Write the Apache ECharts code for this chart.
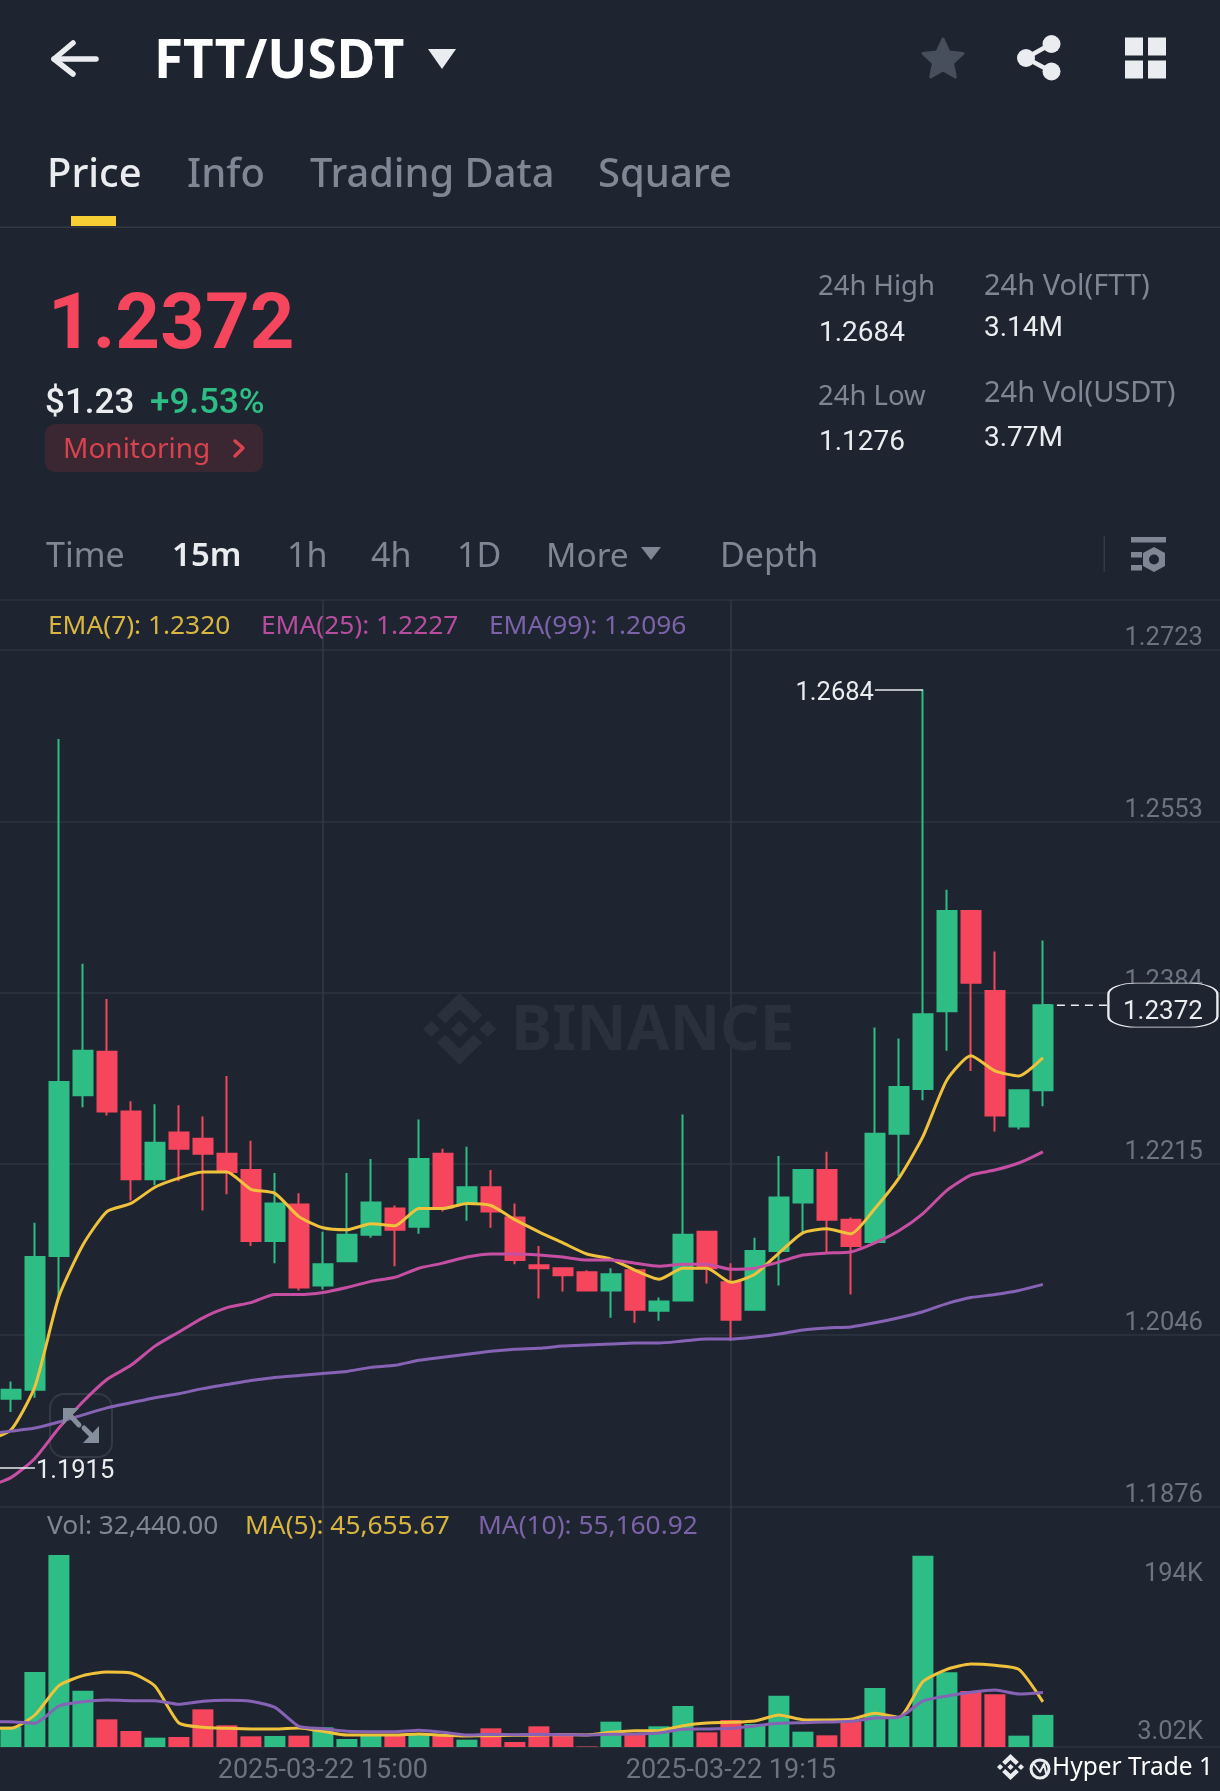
<!DOCTYPE html>
<html>
<head>
<meta charset="utf-8">
<title>FTT/USDT</title>
<script src="https://cdn.jsdelivr.net/npm/echarts@6/dist/echarts.min.js"></script>
<style>
html,body{margin:0;padding:0;background:#1e2530;}
#main{width:1220px;height:1791px;}
</style>
</head>
<body>
<div id="main"></div>
<script>
// 15m candles, the first one sits just off the left edge of the screen
var times = ['11:30','11:45','12:00','12:15','12:30','12:45','13:00','13:15','13:30','13:45','14:00','14:15','14:30','14:45',
    '15:00','15:15','15:30','15:45','16:00','16:15','16:30','16:45','17:00','17:15','17:30','17:45','18:00','18:15','18:30','18:45',
    '19:00','19:15','19:30','19:45','20:00','20:15','20:30','20:45','21:00','21:15','21:30','21:45','22:00','22:15','22:30'];
var opens = [1.1950,1.1983,1.1992,1.2124,1.2283,1.2326,1.2267,1.2200,1.2246,1.2240,1.2225,1.2209,1.2139,1.2175,1.2095,1.2119,1.2145,1.2171,1.2153,1.2225,1.2176,1.2192,1.2162,1.2115,1.2112,1.2108,1.2090,1.2110,1.2070,1.2080,1.2148,1.2098,1.2071,1.2129,1.2177,1.2209,1.2160,1.2138,1.2245,1.2289,1.2366,1.2465,1.2386,1.2252,1.2288];
var closes = [1.1983,1.1992,1.2123,1.2296,1.2327,1.2267,1.2200,1.2236,1.2230,1.2225,1.2207,1.2139,1.2176,1.2093,1.2116,1.2145,1.2177,1.2150,1.2220,1.2172,1.2192,1.2168,1.2120,1.2112,1.2105,1.2090,1.2106,1.2071,1.2079,1.2145,1.2112,1.2061,1.2129,1.2182,1.2209,1.2160,1.2134,1.2245,1.2291,1.2363,1.2465,1.2394,1.2263,1.2288,1.2372];
var lows = [1.1915,1.1970,1.1984,1.2084,1.2271,1.2263,1.2179,1.2194,1.2198,1.2169,1.2185,1.2134,1.2117,1.2090,1.2091,1.2118,1.2142,1.2114,1.2146,1.2168,1.2159,1.2152,1.2116,1.2082,1.2089,1.2090,1.2063,1.2058,1.2060,1.2080,1.2097,1.2040,1.2071,1.2095,1.2147,1.2128,1.2086,1.2138,1.2203,1.2278,1.2327,1.2307,1.2247,1.2249,1.2272];
var highs = [1.1990,1.2000,1.2157,1.2635,1.2413,1.2378,1.2277,1.2274,1.2273,1.2262,1.2302,1.2238,1.2206,1.2186,1.2148,1.2206,1.2220,1.2174,1.2259,1.2230,1.2232,1.2209,1.2176,1.2134,1.2112,1.2110,1.2112,1.2110,1.2083,1.2264,1.2148,1.2117,1.2142,1.2223,1.2209,1.2227,1.2162,1.2350,1.2339,1.2684,1.2486,1.2465,1.2425,1.2288,1.2436];
var ema7 = [1.1942,1.1952,1.1995,1.2084,1.2135,1.2168,1.2176,1.2192,1.2201,1.2207,1.2207,1.2190,1.2186,1.2163,1.2152,1.2150,1.2156,1.2154,1.2171,1.2171,1.2176,1.2174,1.2160,1.2148,1.2137,1.2126,1.2121,1.2110,1.2101,1.2112,1.2112,1.2098,1.2106,1.2127,1.2147,1.2151,1.2146,1.2171,1.2201,1.2242,1.2298,1.2322,1.2307,1.2302,1.2320];
var ema25 = [1.1896,1.1905,1.1924,1.1954,1.1980,1.2002,1.2016,1.2035,1.2049,1.2063,1.2073,1.2078,1.2086,1.2086,1.2088,1.2093,1.2099,1.2103,1.2112,1.2117,1.2123,1.2126,1.2126,1.2125,1.2123,1.2120,1.2120,1.2117,1.2114,1.2116,1.2116,1.2111,1.2112,1.2118,1.2125,1.2127,1.2128,1.2137,1.2149,1.2166,1.2189,1.2204,1.2209,1.2216,1.2227];
var ema99 = [1.1948,1.1951,1.1954,1.1960,1.1967,1.1974,1.1979,1.1984,1.1988,1.1993,1.1997,1.2001,1.2004,1.2006,1.2008,1.2010,1.2014,1.2016,1.2021,1.2024,1.2027,1.2030,1.2032,1.2033,1.2035,1.2036,1.2037,1.2038,1.2038,1.2040,1.2042,1.2042,1.2044,1.2047,1.2051,1.2053,1.2054,1.2058,1.2063,1.2069,1.2077,1.2083,1.2086,1.2090,1.2096];
var volumes = [20000,20540,75780,194000,56900,27950,16170,9430,10100,38060,21890,10780,11110,11450,19870,8080,12460,11110,12800,11110,7410,18860,5050,20880,13810,500,25600,13810,20880,41430,14820,27280,23240,51860,15490,11790,25600,59610,31320,193300,75440,56580,53220,11450,32440];
var ma5 = [18860,18860,32330,61970,72080,75780,74770,61630,24250,19870,18860,18190,18190,19200,15830,12120,12120,12120,13140,11790,11110,11450,11790,12120,12460,12120,14820,16500,16500,21560,24250,24920,26270,32330,27620,27280,27950,34020,29980,66010,78470,83860,82520,78470,45656];
var ma10 = [25260,25600,23910,41430,45800,47490,46820,46820,43110,46140,47150,46140,40080,20880,18520,15830,15490,15490,16840,14820,12120,12800,12460,12800,12460,12120,12800,13140,14150,17850,18190,18860,21220,23910,24590,25260,25930,29300,29980,46480,51530,55230,57590,53550,55161];
var priceTicks = [1.1876,1.2046,1.2215,1.2384,1.2553,1.2723];
var lastPrice = 1.2372;
var highPrice = 1.2684;
var lowPrice = 1.1915;
var timeTicks = ['15:00','19:15'];

var green = '#2ebd85', red = '#f6465d', bg = '#1e2530', line = '#2d3440';
var grey = '#7f8794', axisGrey = '#6c7480', white = '#eaecef';
var yellow = '#f0c23c', pink = '#c64fa3', purple = '#8763b5';
var ui = '"Noto Sans"', num = 'Roboto';

// 7 empty slots leave room on the right for the price labels
var categories = times.concat(['', '', '', '', '', '', '']);
var lastIdx = times.length - 1;
var highIdx = highs.indexOf(highPrice);
var candles = opens.map(function (o, i) { return [o, closes[i], lows[i], highs[i]]; });
var volBars = volumes.map(function (v, i) {
    return {value: v, itemStyle: {color: closes[i] >= opens[i] ? green : red}};
});
var lastLine = categories.map(function (c, i) { return i >= lastIdx && i <= lastIdx + 3 ? lastPrice : null; });
function isTimeTick(index) { return timeTicks.indexOf(categories[index]) >= 0; }

function txt(x, y, s, size, color, weight, font, align) {
    return {type: 'text', z: 20, silent: true, style: {
        x: x, y: y, text: s, fontSize: size, fill: color, fontWeight: weight || 400,
        fontFamily: font || ui, align: align || 'left', verticalAlign: 'middle'
    }};
}
function poly(points, color, z) {
    return {type: 'polygon', z: z || 20, silent: true, shape: {points: points}, style: {fill: color}};
}
function stroke(points, color, w) {
    return {type: 'polyline', z: 20, silent: true, shape: {points: points},
        style: {stroke: color, lineWidth: w, fill: null, lineCap: 'round', lineJoin: 'round'}};
}
function rect(x, y, w, h, color, r) {
    return {type: 'rect', z: 20, silent: true, shape: {x: x, y: y, width: w, height: h, r: r || 0}, style: {fill: color}};
}
function circle(x, y, r, color) {
    return {type: 'circle', z: 20, silent: true, shape: {cx: x, cy: y, r: r}, style: {fill: color}};
}
function star(cx, cy, R, r) {
    var pts = [];
    for (var k = 0; k < 10; k++) {
        var a = -Math.PI / 2 + k * Math.PI / 5, d = k % 2 ? r : R;
        pts.push([cx + d * Math.cos(a), cy + d * Math.sin(a)]);
    }
    return pts;
}
// binance mark, in a 125.5 unit box
var logoParts = [
    [[38.17,53.2],[62.76,28.62],[87.36,53.22],[101.67,38.91],[62.76,0],[23.86,38.9]],
    [[0,62.76],[14.31,48.45],[28.61,62.76],[14.31,77.07]],
    [[38.17,72.31],[62.76,96.9],[87.36,72.3],[101.68,86.59],[62.76,125.52],[23.86,86.62]],
    [[96.9,62.76],[111.21,48.45],[125.52,62.76],[111.21,77.07]],
    [[77.27,62.75],[62.76,48.24],[48.25,62.75],[62.76,77.27]]
];
function logo(x, y, w, h, color, z) {
    return logoParts.map(function (part) {
        return poly(part.map(function (p) { return [x + p[0] * w / 125.5, y + p[1] * h / 125.5]; }), color, z);
    });
}

var elements = [
    // header
    stroke([[96, 59], [54, 59]], white, 5.5),
    stroke([[73, 43], [54, 59], [73, 74]], white, 5.5),
    txt(154, 63, 'FTT/USDT', 53, '#ffffff', 700),
    poly([[428, 49], [456, 49], [442, 69]], white),
    {type: 'polygon', z: 20, silent: true, shape: {points: star(943, 60, 21, 10)}, style: {fill: '#474f5c', stroke: '#474f5c', lineWidth: 3, lineJoin: 'round'}},
    stroke([[1051, 44], [1026, 58], [1052, 72]], white, 4.5),
    circle(1026, 58, 9, white), circle(1051.5, 44, 9, white), circle(1051.5, 71.5, 9, white),
    rect(1125, 37.5, 18, 18, white), rect(1148, 37.5, 18, 18, white),
    rect(1125, 60.5, 18, 18, white), rect(1148, 60.5, 18, 18, white),
    // tabs
    txt(47, 176, 'Price', 40, white, 500),
    txt(187, 176, 'Info', 40, grey, 500),
    txt(310, 176, 'Trading Data', 39.8, grey, 500),
    txt(598, 176, 'Square', 40, grey, 500),
    rect(71, 216, 45, 10, '#f5cf33'),
    rect(0, 226.5, 1220, 1.5, '#333a46'),
    // price block
    txt(48, 328, '1.2372', 78, red, 700, num),
    txt(45, 404, '$1.23', 35, white, 500, num),
    txt(150, 404, '+9.53%', 35, green, 500, num),
    rect(45, 424, 218, 48, '#3a2731', 10),
    txt(63, 450, 'Monitoring', 28, '#d8434f', 400),
    stroke([[235, 441], [243, 448], [235, 456]], '#d8434f', 3.5),
    // 24h stats
    txt(818, 287, '24h High', 27.5, grey),
    txt(819, 334, '1.2684', 28, white, 400, num),
    txt(818, 397, '24h Low', 27.5, grey),
    txt(819, 443, '1.1276', 28, white, 400, num),
    txt(984, 287, '24h Vol(FTT)', 29, grey),
    txt(984, 329, '3.14M', 28, white, 400, num),
    txt(984, 394, '24h Vol(USDT)', 29, grey),
    txt(984, 439, '3.77M', 28, white, 400, num),
    // interval row
    txt(46, 557, 'Time', 34, grey),
    txt(172, 557, '15m', 33, white, 600),
    txt(287, 557, '1h', 34, grey),
    txt(371, 557, '4h', 34, grey),
    txt(457, 557, '1D', 34, grey),
    txt(546, 557, 'More', 33.5, grey),
    poly([[641, 547], [661, 547], [651, 560]], grey),
    txt(720, 557, 'Depth', 34, grey),
    rect(1103.5, 536, 1.5, 36, '#333a46'),
    rect(1131, 537, 35, 5.5, grey),
    rect(1131, 552, 11, 5.5, grey), rect(1131, 565, 11, 5.5, grey),
    poly([[1154, 547], [1165, 553], [1165, 566], [1154, 572], [1143, 566], [1143, 553]], grey),
    circle(1154, 559.5, 5, bg),
    // indicator legends
    txt(48, 627, 'EMA(7): 1.2320', 26.3, '#d9b63f'),
    txt(261, 627, 'EMA(25): 1.2227', 26.3, '#b84da0'),
    txt(489, 627, 'EMA(99): 1.2096', 26.3, '#7c62a8'),
    txt(47, 1527, 'Vol: 32,440.00', 26.3, grey),
    txt(245, 1527, 'MA(5): 45,655.67', 26.3, '#d9b63f'),
    txt(478, 1527, 'MA(10): 55,160.92', 26.3, '#7c62a8'),
    // watermark and the expand button sit under the candles
    {type: 'text', z: 1, silent: true, style: {x: 511, y: 1032, text: 'BINANCE', fontSize: 62, fontWeight: 700, fontFamily: ui, fill: '#2a313c', align: 'left', verticalAlign: 'middle'}},
    {type: 'rect', z: 1, silent: true, shape: {x: 50, y: 1394, width: 62, height: 63, r: 14}, style: {fill: null, stroke: '#333a46', lineWidth: 2}},
    poly([[63, 1408], [79, 1408], [63, 1425]], '#848e9c'),
    stroke([[68, 1413], [79, 1425]], '#848e9c', 5),
    poly([[99, 1443], [83, 1443], [99, 1426]], '#848e9c'),
    stroke([[94, 1438], [84, 1428]], '#848e9c', 5),
    // bottom right stamp
    {type: 'circle', z: 20, silent: true, shape: {cx: 1040, cy: 1769, r: 9}, style: {fill: bg, stroke: white, lineWidth: 3}},
    stroke([[1034, 1764], [1040, 1772], [1044, 1764], [1046, 1773]], white, 2),
    txt(1052, 1768, 'Hyper Trade 1', 24.5, '#ffffff')
].concat(logo(423, 993, 73, 72, '#2a313c', 1), logo(997, 1754, 27, 26, white, 20));

var chart = echarts.init(document.getElementById('main'));
chart.setOption({
    animation: false,
    backgroundColor: bg,
    graphic: {elements: elements},
    grid: [
        {left: -25.1, width: 1248, top: 600, height: 907, outerBoundsMode: 'none'},
        {left: -25.1, width: 1248, top: 1507, height: 240, outerBoundsMode: 'none'}
    ],
    xAxis: [
        {
            type: 'category', gridIndex: 0, data: categories, position: 'top', boundaryGap: true,
            axisLine: {show: true, lineStyle: {color: line, width: 1.5}}, axisTick: {show: false}, axisLabel: {show: false},
            splitLine: {show: true, interval: isTimeTick, alignWithLabel: true, lineStyle: {color: '#333a46', width: 1.5}}
        },
        {
            type: 'category', gridIndex: 1, data: categories, position: 'bottom', boundaryGap: true,
            axisLine: {show: true, lineStyle: {color: line, width: 1.5}}, axisTick: {show: false},
            axisLabel: {
                interval: isTimeTick, margin: 11, color: axisGrey, fontSize: 27, fontFamily: num,
                formatter: function (v) { return '2025-03-22 ' + v; }
            },
            splitLine: {show: true, interval: isTimeTick, alignWithLabel: true, lineStyle: {color: '#333a46', width: 1.5}}
        }
    ],
    yAxis: [
        {
            type: 'value', gridIndex: 0, position: 'right', min: 1.1876, max: 1.27724,
            axisLine: {show: false},
            axisTick: {show: false, customValues: priceTicks},
            axisLabel: {
                inside: true, margin: 20, customValues: priceTicks, color: axisGrey, fontSize: 25.5, fontFamily: num,
                verticalAlign: 'bottom', lineHeight: 22,
                formatter: function (v) { return v.toFixed(4); }
            },
            splitLine: {show: true, lineStyle: {color: line, width: 1.5}}
        },
        {
            type: 'value', gridIndex: 1, position: 'right', min: 0, max: 242500,
            axisLine: {show: false}, axisTick: {show: false}, splitLine: {show: false},
            axisLabel: {
                inside: true, margin: 20, customValues: [194000], color: axisGrey, fontSize: 25.5, fontFamily: num,
                verticalAlign: 'top', padding: [7, 0, 0, 0], formatter: '194K'
            }
        },
        {
            type: 'value', gridIndex: 1, position: 'right', min: 0, max: 242500,
            axisLine: {show: false}, axisTick: {show: false}, splitLine: {show: false},
            axisLabel: {
                inside: true, margin: 20, customValues: [3020], color: axisGrey, fontSize: 25.5, fontFamily: num,
                verticalAlign: 'bottom', lineHeight: 22, formatter: '3.02K'
            }
        }
    ],
    series: [
        {
            name: 'last', type: 'line', z: 1, xAxisIndex: 0, yAxisIndex: 0, data: lastLine, symbol: 'none',
            connectNulls: false,
            lineStyle: {color: white, width: 1.5, type: [8, 6]},
            markPoint: {
                symbol: 'roundRect', symbolSize: [109, 44],
                itemStyle: {color: bg, borderColor: white, borderWidth: 1.5},
                data: [{coord: [lastIdx + 5, lastPrice], value: lastPrice}],
                label: {
                    show: true, position: 'inside', offset: [0, 7], formatter: lastPrice.toFixed(4),
                    color: white, fontSize: 26, fontFamily: num
                }
            }
        },
        {
            name: 'FTT/USDT', type: 'candlestick', xAxisIndex: 0, yAxisIndex: 0, data: candles, barWidth: 19,
            itemStyle: {color: green, color0: red, borderColor: green, borderColor0: red, borderWidth: 2},
            markLine: {
                silent: true, symbol: 'none',
                lineStyle: {color: white, width: 1.5, type: 'solid'},
                label: {show: true, position: 'end', distance: 1, color: white, fontSize: 25.5, fontFamily: num,
                    formatter: function (p) { return '{a|' + p.value.toFixed(4) + '}'; },
                    rich: {a: {color: white, fontSize: 25.5, fontFamily: num, padding: [8, 0, 0, 0]}}},
                data: [
                    [{coord: [highIdx, highPrice], value: highPrice}, {coord: [highIdx - 2, highPrice], value: highPrice}],
                    [{coord: [0, lowPrice], value: lowPrice}, {coord: [2, lowPrice], value: lowPrice}]
                ]
            }
        },
        {name: 'EMA(7)', type: 'line', z: 3, xAxisIndex: 0, yAxisIndex: 0, data: ema7, symbol: 'none', smooth: 0.2, lineStyle: {color: yellow, width: 3}},
        {name: 'EMA(25)', type: 'line', z: 3, xAxisIndex: 0, yAxisIndex: 0, data: ema25, symbol: 'none', smooth: 0.2, lineStyle: {color: pink, width: 3}},
        {name: 'EMA(99)', type: 'line', z: 3, xAxisIndex: 0, yAxisIndex: 0, data: ema99, symbol: 'none', smooth: 0.2, lineStyle: {color: purple, width: 3}},
        {name: 'Vol', type: 'bar', xAxisIndex: 1, yAxisIndex: 1, data: volBars, barWidth: 21},
        {name: 'MA(5)', type: 'line', z: 3, xAxisIndex: 1, yAxisIndex: 1, data: ma5, symbol: 'none', smooth: 0.2, lineStyle: {color: yellow, width: 3}},
        {name: 'MA(10)', type: 'line', z: 3, xAxisIndex: 1, yAxisIndex: 1, data: ma10, symbol: 'none', smooth: 0.2, lineStyle: {color: purple, width: 3}}
    ]
});
</script>
</body>
</html>
